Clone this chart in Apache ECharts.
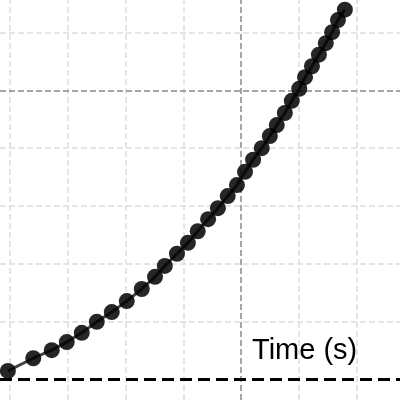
<!DOCTYPE html>
<html>
<head>
<meta charset="utf-8">
<script src="https://cdn.jsdelivr.net/npm/echarts@6/dist/echarts.min.js"></script>
<style>html,body{margin:0;padding:0;background:#fff}#main{width:400px;height:400px}</style>
</head>
<body>
<div id="main"></div>
<script>
var timeX = [-4.04,-3.60,-3.28,-3.02,-2.76,-2.50,-2.24,-1.98,-1.72,-1.49,-1.32,-1.11,-0.92,-0.75,-0.57,-0.40,-0.23,-0.07,0.07,0.21,0.36,0.50,0.62,0.76,0.88,1.01,1.11,1.23,1.35,1.47,1.58,1.68,1.80]
var valueY = [0.14,0.36,0.50,0.64,0.80,0.99,1.16,1.35,1.56,1.77,1.96,2.17,2.36,2.56,2.77,2.96,3.17,3.36,3.59,3.80,4.00,4.21,4.40,4.61,4.82,5.03,5.23,5.42,5.62,5.82,6.01,6.22,6.40]
var gridX = [-4,-3,-2,-1,0,1,2]
var gridY = [1,2,3,4,5,6]

var myChart = echarts.init(document.getElementById('main'))
var lines = []
gridX.forEach(function (v) {
  lines.push({ xAxis: v, lineStyle: { color: v === 0 ? '#888' : '#ddd', width: 1.5 } })
})
gridY.forEach(function (v) {
  lines.push({ yAxis: v, lineStyle: { color: v === 5 ? '#888' : '#ddd', width: 1.5 } })
})
lines.push({ yAxis: 0, lineStyle: { color: '#000', width: 3 } })

myChart.setOption({
  animation: false,
  grid: { left: 0, right: 0, top: 0, bottom: 0 },
  xAxis: { type: 'value', min: -4.177, max: 2.756, show: false, splitLine: { show: false } },
  yAxis: { type: 'value', min: -0.364, max: 6.568, show: false, splitLine: { show: false } },
  graphic: [{
    type: 'text', left: 252, top: 336,
    style: { text: 'Time (s)', font: '29px "Liberation Sans", Arial, sans-serif', fill: '#000' }
  }],
  series: [{
    type: 'line',
    data: timeX.map(function (x, i) { return [x, valueY[i]] }),
    symbol: 'circle',
    symbolSize: 16,
    lineStyle: { color: '#444', width: 3 },
    itemStyle: { color: 'rgba(0,0,0,0.85)' },
    markLine: { silent: true, symbol: 'none', label: { show: false }, z: 0, data: lines }
  }]
})
</script>
</body>
</html>
